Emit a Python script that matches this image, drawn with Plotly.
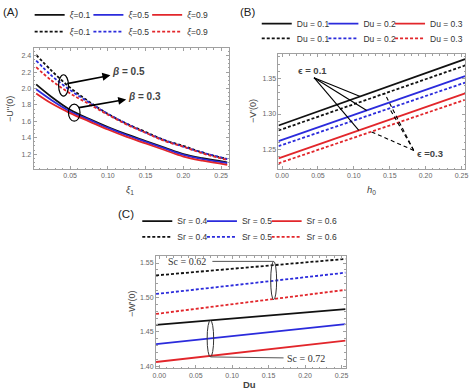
import plotly.graph_objects as go

# ---------------- data ----------------
# Panel A: -U''(0) vs xi_1
xi1 = [0.005, 0.025, 0.05, 0.075, 0.10, 0.125, 0.15, 0.175, 0.20, 0.225, 0.258]
A_solid_01 = [2.05, 1.90, 1.74, 1.63, 1.53, 1.44, 1.36, 1.28, 1.20, 1.15, 1.10]
A_solid_05 = [1.99, 1.86, 1.72, 1.62, 1.52, 1.43, 1.35, 1.27, 1.19, 1.14, 1.09]
A_solid_09 = [1.94, 1.82, 1.70, 1.60, 1.50, 1.41, 1.33, 1.25, 1.17, 1.12, 1.07]
A_dash_01 = [2.41, 2.22, 2.01, 1.84, 1.69, 1.57, 1.47, 1.37, 1.30, 1.22, 1.14]
A_dash_05 = [2.34, 2.16, 1.98, 1.83, 1.69, 1.57, 1.46, 1.37, 1.29, 1.22, 1.14]
A_dash_09 = [2.26, 2.10, 1.94, 1.81, 1.68, 1.56, 1.46, 1.36, 1.29, 1.21, 1.13]
A_labels = ["<i>ξ</i>=0.1", "<i>ξ</i>=0.5", "<i>ξ</i>=0.9"]

# Panel B: -V'(0) vs h0 (values read at the frame edges)
h0 = [-0.005, 0.255]
B_solid = [[1.284, 1.377], [1.262, 1.353], [1.238, 1.329]]
B_dash = [[1.277, 1.368], [1.255, 1.344], [1.231, 1.320]]
B_labels = ["Du = 0.1", "Du = 0.2", "Du = 0.3"]

# Panel C: -W'(0) vs Du (values read at the frame edges)
Du = [-0.0045, 0.2557]
C_solid = [[1.460, 1.483], [1.432, 1.461], [1.406, 1.437]]
C_dash = [[1.532, 1.556], [1.505, 1.536], [1.476, 1.511]]
C_labels = ["Sr = 0.4", "Sr = 0.5", "Sr = 0.6"]

COLORS = ["#111111", "#2b2bdc", "#e2262b"]
DASH = "3px,2px"
W, H = 474, 392

fig = go.Figure()


def px_x(p):
    return p / W


def px_y(p):
    return 1 - p / H


LEGFONT = dict(family="Liberation Sans, Arial", size=8.5, color="#333333")
legend_layout = {}
leg_counter = [0]


def new_legend(xpx, ypx):
    leg_counter[0] += 1
    n = leg_counter[0]
    key = "legend" if n == 1 else "legend%d" % n
    legend_layout[key] = dict(
        x=px_x(xpx), y=px_y(ypx), xanchor="left", yanchor="middle",
        bgcolor="rgba(0,0,0,0)", borderwidth=0, font=LEGFONT,
        itemwidth=30, tracegroupgap=0)
    return key


def add_set(xs, ys_list, labels, dash, xa, ya, leg_x, leg_y, spacing, spline=False):
    for i, (ys, lab, col) in enumerate(zip(ys_list, labels, COLORS)):
        key = new_legend(leg_x + i * spacing, leg_y)
        fig.add_trace(go.Scatter(
            x=xs, y=ys, mode="lines", name=lab, legend=key,
            xaxis=xa, yaxis=ya,
            line=dict(color=col, width=1.8, dash=dash,
                      shape="spline" if spline else "linear"),
            hoverinfo="skip"))


add_set(xi1, [A_solid_01, A_solid_05, A_solid_09], A_labels, "solid", "x", "y", 27, 9, 59.5, True)
add_set(xi1, [A_dash_01, A_dash_05, A_dash_09], A_labels, DASH, "x", "y", 27, 26, 59.5, True)
add_set(h0, B_solid, B_labels, "solid", "x2", "y2", 257, 18, 67.5)
add_set(h0, B_dash, B_labels, DASH, "x2", "y2", 257, 33, 67.5)
add_set(Du, C_solid, C_labels, "solid", "x3", "y3", 136, 219, 65.5)
add_set(Du, C_dash, C_labels, DASH, "x3", "y3", 136, 235, 65.5)

FRAME = "#a0a0a0"
TICKFONT = dict(family="Liberation Sans, Arial", size=7, color="#666666")


def axis(domain, rng, dtick, minor, anchor, fmt):
    return dict(domain=domain, range=rng, dtick=dtick, tick0=0, anchor=anchor,
                showgrid=False, zeroline=False, showline=True, linecolor=FRAME,
                linewidth=1, mirror="allticks", ticks="inside", ticklen=3,
                tickcolor=FRAME, tickwidth=1, tickfont=TICKFONT, tickformat=fmt,
                minor=dict(ticks="inside", ticklen=1.5, tickcolor=FRAME, dtick=minor,
                           showgrid=False),
                fixedrange=True)


A_x = [px_x(31), px_x(229)]
A_y = [px_y(166), px_y(43)]
B_x = [px_x(279), px_x(468)]
B_y = [px_y(166), px_y(49)]
C_x = [px_x(155), px_x(347)]
C_y = [px_y(369), px_y(255)]

fig.update_layout(
    width=W, height=H, margin=dict(l=0, r=0, t=0, b=0),
    paper_bgcolor="white", plot_bgcolor="white", showlegend=True,
    xaxis=axis(A_x, [0.0016, 0.2605], 0.05, 0.01, "y", ".2f"),
    yaxis=axis(A_y, [1.018, 2.491], 0.2, 0.05, "x", ".1f"),
    xaxis2=axis(B_x, [-0.005, 0.255], 0.05, 0.01, "y2", ".2f"),
    yaxis2=axis(B_y, [1.223, 1.3839], 0.05, 0.01, "x2", ".2f"),
    xaxis3=axis(C_x, [-0.0045, 0.2557], 0.05, 0.01, "y3", ".2f"),
    yaxis3=axis(C_y, [1.3967, 1.5596], 0.05, 0.01, "x3", ".2f"),
    **legend_layout,
)

ann = []
shapes = []


def paper_text(text, xp, yp, size=9, angle=0, color="#444444", family="Liberation Sans, Arial"):
    ann.append(dict(text=text, x=px_x(xp), y=px_y(yp), xref="paper", yref="paper",
                    showarrow=False, textangle=angle, xanchor="center", yanchor="middle",
                    font=dict(size=size, color=color, family=family)))


# panel labels
paper_text("(A)", 8, 6, size=11.5, color="#222222")
paper_text("(B)", 248, 6, size=11.5, color="#222222")
paper_text("(C)", 125, 212, size=11.5, color="#222222")

# axis titles
paper_text("−U''(0)", 7, 105, size=9, angle=-90)
paper_text("<i>ξ</i><sub>1</sub>", 129, 187, size=9.5)
paper_text("−V'(0)", 253, 107, size=9, angle=-90)
paper_text("<i>h</i><sub>0</sub>", 373, 187, size=9.5)
paper_text("−W'(0)", 130, 303, size=9, angle=-90)
paper_text("<b>Du</b>", 250, 385, size=9.5)

# ----- Panel A annotations -----


def ax_x(p):
    return 0.0016 + (p - 31) / 764.8


def ax_y(p):
    return 2.0 - (p - 84) / 83.5


BFONT = dict(size=10, color="#444444", family="Liberation Sans, Arial")
shapes.append(dict(type="circle", xref="x", yref="y",
                   x0=ax_x(56.3), x1=ax_x(66.3), y0=ax_y(91.7), y1=ax_y(70),
                   line=dict(color="black", width=1.2)))
shapes.append(dict(type="circle", xref="x", yref="y",
                   x0=ax_x(66.3), x1=ax_x(78), y0=ax_y(117.3), y1=ax_y(100),
                   line=dict(color="black", width=1.2)))
# text at the arrow head end; arrow drawn from the ellipse towards the text
ann.append(dict(text="<b><i>β</i> = 0.5</b>", x=ax_x(65), y=ax_y(79),
                ax=ax_x(127), ay=ax_y(67), xref="x", yref="y", axref="x", ayref="y",
                showarrow=True, arrowside="start", arrowhead=2, startarrowhead=2,
                startarrowsize=1, arrowwidth=1.6, arrowcolor="black", startstandoff=0,
                font=BFONT))
ann.append(dict(text="<b><i>β</i> = 0.3</b>", x=ax_x(77), y=ax_y(103.5),
                ax=ax_x(143), ay=ax_y(92), xref="x", yref="y", axref="x", ayref="y",
                showarrow=True, arrowside="start", arrowhead=2, startarrowhead=2,
                startarrowsize=1, arrowwidth=1.6, arrowcolor="black", startstandoff=0,
                font=BFONT))

# ----- Panel B annotations -----


def bx(p):
    return -0.005 + (p - 279) / 727


def by(p):
    return 1.30 - (p - 110) / 727


for tx, ty in [(0.109, 1.3245), (0.118, 1.305), (0.107, 1.277)]:
    shapes.append(dict(type="line", xref="x2", yref="y2", x0=bx(315), y0=by(73),
                       x1=tx, y1=ty, line=dict(color="black", width=1.1)))
for tx, ty in [(0.1429, 1.329), (0.1495, 1.3082), (0.1243, 1.2752)]:
    shapes.append(dict(type="line", xref="x2", yref="y2", x0=bx(416), y0=by(147),
                       x1=tx, y1=ty, line=dict(color="black", width=1.1, dash="4px,3px")))
ann.append(dict(text="<b>ϵ = 0.1</b>", x=bx(313), y=by(66), xref="x2", yref="y2",
                showarrow=False, font=dict(size=9.5, color="#444444", family="Liberation Sans, Arial")))
ann.append(dict(text="<b>ϵ =0.3</b>", x=bx(417), y=by(150), xref="x2", yref="y2",
                xanchor="left", showarrow=False,
                font=dict(size=9.5, color="#444444", family="Liberation Sans, Arial")))

# ----- Panel C annotations -----


def cx(p):
    return -0.0045 + (p - 155) / 737


def cy(p):
    return 1.40 + (366.7 - p) / 700


SERIF = "Liberation Serif, Times New Roman, serif"
shapes.append(dict(type="circle", xref="x3", yref="y3",
                   x0=cx(271), x1=cx(277), y0=cy(299), y1=cy(260),
                   line=dict(color="#333333", width=1)))
shapes.append(dict(type="circle", xref="x3", yref="y3",
                   x0=cx(206.7), x1=cx(213.3), y0=cy(357.3), y1=cy(320),
                   line=dict(color="#333333", width=1)))
shapes.append(dict(type="line", xref="x3", yref="y3", x0=cx(212), y0=cy(260),
                   x1=cx(274), y1=cy(260), line=dict(color="#555555", width=1)))
shapes.append(dict(type="line", xref="x3", yref="y3", x0=cx(210), y0=cy(357.3),
                   x1=cx(284), y1=cy(358.3), line=dict(color="#555555", width=1)))
ann.append(dict(text="Sc = 0.62", x=cx(165), y=cy(260.5), xref="x3", yref="y3",
                xanchor="left", showarrow=False,
                font=dict(size=10, color="#333333", family=SERIF)))
ann.append(dict(text="Sc = 0.72", x=cx(285), y=cy(358.5), xref="x3", yref="y3",
                xanchor="left", showarrow=False,
                font=dict(size=10, color="#333333", family=SERIF)))

fig.update_layout(annotations=ann, shapes=shapes)

# remove the browser's default 8px body margin so the figure fills the window
fig.write_html("out.html", config={"displayModeBar": False},
               post_script="document.body.style.margin='0px';")
